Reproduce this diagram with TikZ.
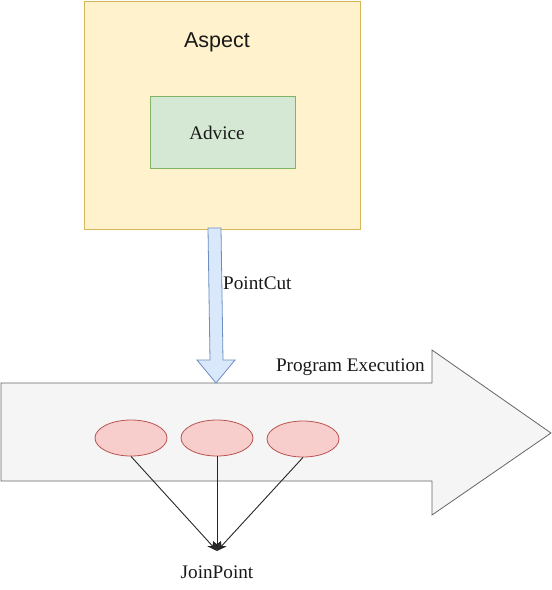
\documentclass[tikz,border=0pt]{standalone}
\usepackage{fontspec}
\setmainfont{Liberation Serif}
\newfontfamily\arialfont{Liberation Sans}
\usetikzlibrary{arrows.meta,shapes.geometric}
\definecolor{aspfill}{HTML}{FFF2CC}
\definecolor{aspdraw}{HTML}{D6B656}
\definecolor{advfill}{HTML}{D5E8D4}
\definecolor{advdraw}{HTML}{82B366}
\definecolor{pcfill}{HTML}{DAE8FC}
\definecolor{pcdraw}{HTML}{6C8EBF}
\definecolor{pefill}{HTML}{F5F5F5}
\definecolor{pedraw}{HTML}{666666}
\definecolor{jpfill}{HTML}{F8CECC}
\definecolor{jpdraw}{HTML}{B85450}
\tikzset{
  lbl/.style={font=\fontsize{19.2}{21}\selectfont, inner sep=0pt, text=black!90},
  jpell/.style={ellipse, draw=jpdraw, fill=jpfill, minimum width=72pt, minimum height=36pt, inner sep=0pt, line width=0.8pt},
  conn/.style={draw=black!85, line width=0.9pt, -{Stealth[length=10pt,width=8pt]}}
}
\begin{document}
\begin{tikzpicture}[x=1pt,y=-1pt]
\useasboundingbox (0,0) rectangle (552,590);
% Aspect
\node[draw=aspdraw, fill=aspfill, line width=0.8pt, minimum width=276pt, minimum height=228pt, inner sep=0pt, anchor=north west] (aspect) at (84,0.5) {};
\node[font=\arialfont\fontsize{21.5}{24}\selectfont, inner sep=0pt, text=black!90] (asptxt) at (217,42) {Aspect};
\node[draw=advdraw, fill=advfill, line width=0.8pt, minimum width=145pt, minimum height=72pt, inner sep=0pt, anchor=north west] (advice) at (150,96) {};
\node[lbl] (advtxt) at (217,133) {Advice};
% Program Execution arrow
\draw[draw=pedraw, fill=pefill, line width=0.8pt]
  (1,383) -- (432,383) -- (432,350) -- (551,433) -- (432,515) -- (432,481) -- (1,481) -- cycle;
\node[lbl, anchor=east] (pe) at (425,367) {Program Execution};
% PointCut arrow
\draw[draw=pcdraw, fill=pcfill, line width=0.8pt]
  (208,228) -- (221,228) -- (223,360) -- (235,360) -- (216,383) -- (197,360) -- (210,360) -- cycle;
\node[lbl, anchor=west] (pc) at (223,283) {PointCut};
% Join points
\node[jpell] (e1) at (131,438) {};
\node[jpell] (e2) at (217,438) {};
\node[jpell] (e3) at (303,439) {};
\coordinate (jp) at (217,551);
\node[lbl] (jptxt) at (217,572) {JoinPoint};
\draw[conn] (e1.south) -- (jp);
\draw[conn] (e2.south) -- (jp);
\draw[conn] (e3.south) -- (jp);
\end{tikzpicture}
\end{document}
